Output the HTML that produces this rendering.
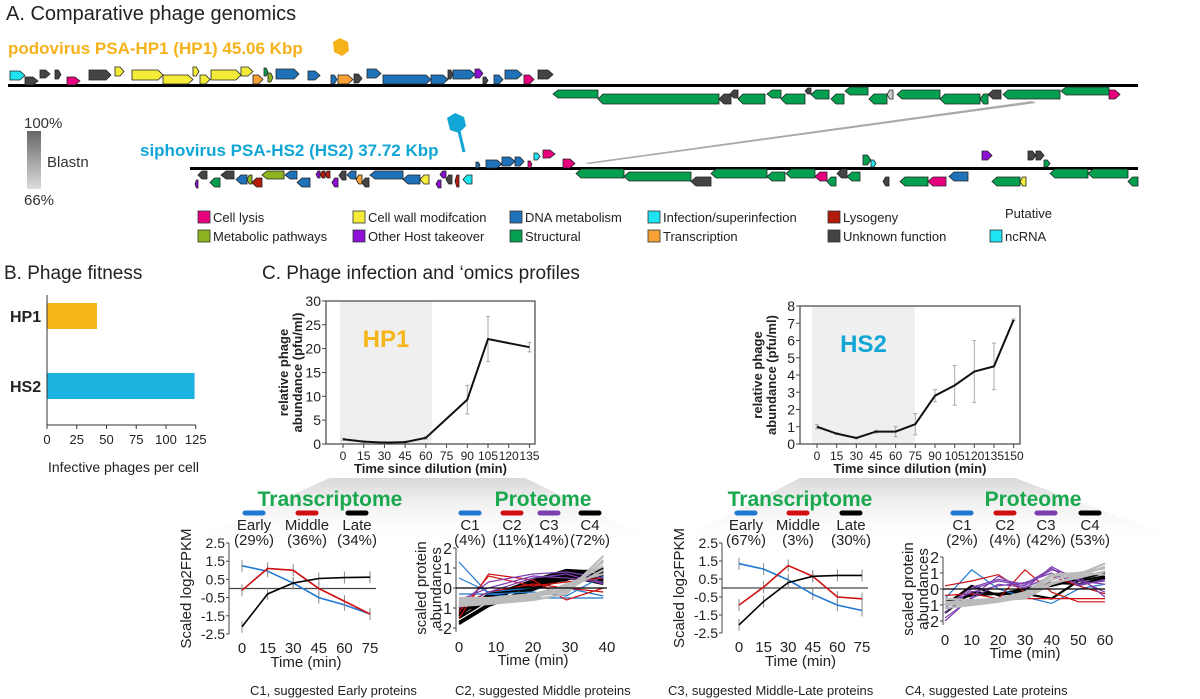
<!DOCTYPE html>
<html><head><meta charset="utf-8"><style>
body{margin:0;background:#fff;}
svg{display:block;font-family:"Liberation Sans",Arial,sans-serif;}
</style></head><body>
<svg id="fig" width="1200" height="699" viewBox="0 0 1200 699" xmlns="http://www.w3.org/2000/svg">
<defs>
<linearGradient id="blastGrad" x1="0" y1="0" x2="0" y2="1"><stop offset="0" stop-color="#666"/><stop offset="1" stop-color="#ddd"/></linearGradient>
<linearGradient id="fanGrad" x1="0" y1="0" x2="0" y2="1"><stop offset="0" stop-color="#d8d8d8"/><stop offset="1" stop-color="#fff" stop-opacity="0"/></linearGradient>
</defs>
<text x="6" y="20" font-size="20" fill="#222">A. Comparative phage genomics</text>
<text x="8" y="54" font-size="17" font-weight="bold" fill="#f5b21a">podovirus PSA-HP1 (HP1) 45.06 Kbp</text>
<polygon points="333,42 340,38 348,42 349,51 342,56 334,52" fill="#f5b21a"/>
<g><polygon points="447,118 455,113 464,117 466,126 459,133 450,130" fill="#12a6d6"/><line x1="459" y1="131" x2="464" y2="152" stroke="#12a6d6" stroke-width="3"/></g>
<text x="140" y="156" font-size="17" font-weight="bold" fill="#12a6d6">siphovirus PSA-HS2 (HS2) 37.72 Kbp</text>
<text x="24" y="128" font-size="15" fill="#333">100%</text>
<rect x="27" y="131" width="14" height="58" fill="url(#blastGrad)"/>
<text x="47" y="167" font-size="15" fill="#333">Blastn</text>
<text x="24" y="205" font-size="15" fill="#333">66%</text>
<polygon points="1032,101 1036,103 589,164 585,163" fill="#aaa"/>
<line x1="8" y1="85.5" x2="1138" y2="85.5" stroke="#000" stroke-width="3"/>
<line x1="190" y1="168.5" x2="1138" y2="168.5" stroke="#000" stroke-width="3"/>
<g id="genes"></g>
<g id="legend"></g>
<text x="4" y="279" font-size="19" fill="#222">B.   Phage fitness</text>
<g id="fitness"></g>
<text x="262" y="279" font-size="19" fill="#222">C. Phage infection and ‘omics profiles</text>
<polygon points="330,478 525,478 665,545 180,545" fill="url(#fanGrad)"/>
<polygon points="800,478 1015,478 1195,545 670,545" fill="url(#fanGrad)"/>
<g id="charts"></g>
<text x="250" y="695" font-size="13" fill="#222">C1, suggested Early proteins</text>
<text x="455" y="695" font-size="13" fill="#222">C2, suggested Middle proteins</text>
<text x="668" y="695" font-size="13" fill="#222">C3, suggested Middle-Late proteins</text>
<text x="905" y="695" font-size="13" fill="#222">C4, suggested Late proteins</text>
</svg>
<script>
const NS='http://www.w3.org/2000/svg';
const COL={pk:'#e6007e',ye:'#f5ec3a',bl:'#1f72b8',cy:'#1ee3f0',rd:'#b31b0b',dk:'#444',ol:'#8db31e',pu:'#8e0fd6',gr:'#04a050',or:'#f7a035',lg:'#ccc'};
// genes: [x1,x2,y1,y2,color,dir]
const hp1Genes=[[10,25,71,80,'cy',1],[25,38,77,85,'dk',1],[40,50,70,78,'dk',1],[55,61,70,79,'dk',1],[67,80,77,85,'pk',1],[89,111,70,80,'dk',1],[115,124,67,76,'ye',1],[132,163,70,80,'ye',1],[163,193,75,84,'ye',1],[193,199,67,76,'ye',1],[200,210,75,84,'ye',1],[211,241,70,80,'ye',1],[241,253,67,76,'ye',1],[253,263,75,84,'or',1],[264,268,68,76,'gr',1],[268,273,73,82,'ol',1],[276,299,69,79,'bl',1],[308,320,71,80,'bl',1],[331,337,75,84,'bl',1],[338,353,75,84,'or',1],[354,362,74,83,'dk',1],[367,381,69,78,'bl',1],[383,431,75,84,'bl',1],[431,448,75,84,'bl',1],[448,453,70,79,'dk',1],[453,475,70,79,'bl',1],[475,483,69,78,'pu',1],[483,488,77,84,'dk',1],[494,503,75,84,'bl',1],[505,522,70,79,'bl',1],[524,534,75,84,'pk',1],[538,553,70,79,'dk',1],
[553,598,90,98,'gr',-1],[598,719,94,104,'gr',-1],[719,731,94,104,'dk',-1],[730,738,90,98,'dk',-1],[738,765,94,104,'gr',-1],[767,781,90,98,'gr',-1],[781,805,94,104,'gr',-1],[805,811,88,94,'dk',-1],[811,829,90,99,'gr',-1],[831,844,94,104,'gr',-1],[845,868,87,95,'gr',-1],[869,887,94,104,'gr',-1],[887,893,90,99,'lg',-1],[897,940,90,99,'gr',-1],[940,980,94,104,'gr',-1],[980,988,94,104,'gr',-1],[988,1001,90,99,'dk',-1],[1003,1060,90,99,'gr',-1],[1061,1109,87,95,'gr',-1],[1109,1120,90,99,'pk',1]];
const hs2Genes=[[476,480,162,168,'bl',1],[486,502,160,168,'bl',1],[502,515,157,166,'bl',1],[515,524,157,166,'bl',1],[528,532,161,168,'pk',1],[534,540,153,160,'cy',1],[543,555,150,158,'pk',1],[563,575,159,168,'pk',1],[863,871,155,165,'gr',1],[871,876,160,167,'cy',1],[982,992,151,160,'pu',1],[1028,1036,151,160,'dk',1],[1036,1044,151,160,'dk',1],[1044,1050,160,167,'gr',1],
[198,207,171,179,'dk',-1],[195,198,180,188,'pu',-1],[210,220,178,187,'gr',-1],[221,234,171,179,'dk',-1],[236,247,175,184,'bl',-1],[247,252,175,184,'ol',-1],[252,262,178,187,'rd',-1],[262,284,171,179,'ol',-1],[285,297,171,179,'bl',-1],[297,310,178,187,'bl',-1],[316,320,171,178,'pu',-1],[320,325,171,178,'rd',-1],[325,330,171,178,'rd',-1],[332,338,178,187,'pu',-1],[339,346,171,180,'dk',-1],[347,356,171,179,'bl',-1],[356,362,175,184,'or',-1],[362,369,178,187,'dk',-1],[370,403,171,179,'bl',-1],[403,420,175,184,'bl',-1],[420,429,175,184,'ye',-1],[436,441,180,188,'pu',-1],[440,446,171,178,'pu',-1],[446,452,175,184,'dk',-1],[455,459,175,187,'rd',-1],[463,472,175,184,'cy',-1],
[576,624,169,178,'gr',-1],[624,691,172,181,'gr',-1],[691,711,177,186,'dk',-1],[711,767,169,178,'gr',-1],[767,785,172,181,'gr',-1],[786,815,169,178,'gr',-1],[815,827,172,181,'pk',-1],[827,836,177,186,'gr',-1],[837,847,169,178,'dk',-1],[847,860,172,181,'gr',-1],[883,889,177,186,'dk',-1],[900,928,177,186,'gr',-1],[928,946,177,186,'pk',-1],[949,968,172,181,'bl',-1],[992,1020,177,186,'gr',-1],[1020,1026,177,186,'ye',-1],[1050,1088,169,178,'gr',-1],[1088,1128,169,178,'gr',-1],[1128,1138,177,186,'gr',-1]];
function el(tag,attrs,parent,text){const e=document.createElementNS(NS,tag);for(const k in attrs)e.setAttribute(k,attrs[k]);if(text!==undefined)e.textContent=text;parent.appendChild(e);return e;}
const gG=document.getElementById('genes');
function drawGene(g,nm){const [x1,x2,y1,y2,c,d]=g;const h=Math.min(5,(x2-x1)*0.45);const ym=(y1+y2)/2;let pts;
 if(d>0)pts=`${x1},${y1} ${x2-h},${y1} ${x2},${ym} ${x2-h},${y2} ${x1},${y2}`;else pts=`${x2},${y1} ${x1+h},${y1} ${x1},${ym} ${x1+h},${y2} ${x2},${y2}`;
 const p=el('polygon',{points:pts,fill:COL[c],stroke:'#222','stroke-width':0.8},gG);
 
 }
hp1Genes.forEach(g=>drawGene(g,'hp1-gene'));
hs2Genes.forEach(g=>drawGene(g,'hs2-gene'));
const legItems=[[198,212,'pk','Cell lysis'],[198,231,'ol','Metabolic pathways'],[353,212,'ye','Cell wall modifcation'],[353,231,'pu','Other Host takeover'],[510,212,'bl','DNA metabolism'],[510,231,'gr','Structural'],[648,212,'cy','Infection/superinfection'],[648,231,'or','Transcription'],[828,212,'rd','Lysogeny'],[828,231,'dk','Unknown function'],[990,231,'cy','ncRNA']];
const gL=document.getElementById('legend');
legItems.forEach(it=>{const r=el('rect',{x:it[0],y:it[1]-1,width:12,height:12,fill:COL[it[2]],stroke:'#333','stroke-width':0.8},gL);
 
 
 const t=el('text',{x:it[0]+15,y:it[1]+10,'font-size':13,fill:'#222'},gL,it[3]);
 
 });
const pt=el('text',{x:1005,y:218,'font-size':13,fill:'#222'},gL,'Putative');


// fitness
const fitCats=['HP1','HS2'];
const fitVals=[42,124];
const fitTicks=[0,25,50,75,100,125];
const gF=document.getElementById('fitness');
const fx=v=>47+v*1.19;
const fitY=[303,373],fitC=['#f7b51a','#1cb2e0'];
fitCats.forEach((c,i)=>{const r=el('rect',{x:fx(0),y:fitY[i],width:fx(fitVals[i])-fx(0),height:26,fill:fitC[i]},gF);
 
 
 const t=el('text',{x:10,y:fitY[i]+19,'font-size':16,'font-weight':'bold',fill:'#222'},gF,c);
 
 });
el('line',{x1:fx(0),y1:425,x2:fx(125),y2:425,stroke:'#333','stroke-width':1},gF);
el('line',{x1:fx(0),y1:295,x2:fx(0),y2:425,stroke:'#333','stroke-width':1},gF);
fitTicks.forEach(v=>{el('line',{x1:fx(v),y1:425,x2:fx(v),y2:429,stroke:'#333'},gF);
 const t=el('text',{x:fx(v),y:444,'font-size':13,'text-anchor':'middle',fill:'#222'},gF,v);
 
 });
const fxt=el('text',{x:48,y:472,'font-size':14,fill:'#222'},gF,'Infective phages per cell');



// top infection curves
const hp1Times=[0,15,30,45,60,90,105,135];
const hp1Abund=[1,0.5,0.3,0.4,1.3,9.3,22,20.3];
const hp1Err=[0.2,0.2,0.2,0.2,0.3,3,4.7,1];
const hp1Ticks=[0,15,30,45,60,75,90,105,120,135];
const hp1YTicks=[0,5,10,15,20,25,30];
const hs2Times=[0,15,30,45,60,75,90,105,120,135,150];
const hs2Abund=[1,0.6,0.35,0.72,0.72,1.15,2.8,3.4,4.2,4.5,7.2];
const hs2Err=[0.12,0.05,0.05,0.08,0.3,0.62,0.35,1.15,1.8,1.35,0.05];
const hs2Ticks=[0,15,30,45,60,75,90,105,120,135,150];
const hs2YTicks=[0,1,2,3,4,5,6,7,8];
const gC=document.getElementById('charts');
function txt(x,y,s,size,attrs,name){const t=el('text',Object.assign({x:x,y:y,'font-size':size,fill:'#222'},attrs||{}),gC,s);
 
 return t;}
function topChart(o){const X=t=>o.x0+t*o.sx,Y=v=>o.y0-v*o.sy;
 el('rect',{x:o.sh0,y:o.top,width:o.sh1-o.sh0,height:o.y0-o.top,fill:'#efefef'},gC);
 el('rect',{x:o.ax,y:o.top,width:o.right-o.ax,height:o.y0-o.top,fill:'none',stroke:'#444','stroke-width':1.2},gC);
 o.yt.forEach(v=>{el('line',{x1:o.ax-4,y1:Y(v),x2:o.ax,y2:Y(v),stroke:'#444'},gC);txt(o.ax-5,Y(v)+5,v,14,{'text-anchor':'end'},'y-tick-label');});
 o.xt.forEach(v=>{el('line',{x1:X(v),y1:o.y0,x2:X(v),y2:o.y0+4,stroke:'#444'},gC);txt(X(v),o.y0+16,v,12,{'text-anchor':'middle'},'x-tick-label');});
 o.t.forEach((t,i)=>{const e=o.e[i];el('line',{x1:X(t),y1:Y(o.v[i]-e),x2:X(t),y2:Y(o.v[i]+e),stroke:'#aaa'},gC);
  el('line',{x1:X(t)-2,y1:Y(o.v[i]-e),x2:X(t)+2,y2:Y(o.v[i]-e),stroke:'#aaa'},gC);el('line',{x1:X(t)-2,y1:Y(o.v[i]+e),x2:X(t)+2,y2:Y(o.v[i]+e),stroke:'#aaa'},gC);});
 const pl=el('polyline',{points:o.t.map((t,i)=>X(t)+','+Y(o.v[i])).join(' '),fill:'none',stroke:'#111','stroke-width':2},gC);
 
 
 txt((o.sh0+o.sh1)/2,o.top+46,o.label,24,{'text-anchor':'middle','font-weight':'bold',fill:o.col},o.name+'-chart-label');
 const yc=(o.top+o.y0)/2;
 txt(o.ax-38,yc,'relative phage',13,{'text-anchor':'middle','font-weight':'bold',transform:`rotate(-90 ${o.ax-38} ${yc})`},'y-axis-title');
 txt(o.ax-24,yc,'abundance (pfu/ml)',13,{'text-anchor':'middle','font-weight':'bold',transform:`rotate(-90 ${o.ax-24} ${yc})`},'y-axis-title');
 txt((o.ax+o.right)/2,473,'Time since dilution (min)',13,{'text-anchor':'middle','font-weight':'bold'},'x-axis-title');}
topChart({name:'hp1',x0:343,sx:1.381,y0:444,sy:4.77,top:301,ax:326,right:535,sh0:340,sh1:432,t:hp1Times,v:hp1Abund,e:hp1Err,xt:hp1Ticks,yt:hp1YTicks,label:'HP1',col:'#f7b51a'});
topChart({name:'hs2',x0:817,sx:1.311,y0:444,sy:17.25,top:306,ax:800,right:1020,sh0:812,sh1:915,t:hs2Times,v:hs2Abund,e:hs2Err,xt:hs2Ticks,yt:hs2YTicks,label:'HS2',col:'#12a6d6'});

// transcriptome
const trTimes=[0,15,30,45,60,75];
const trYTicks=[2.5,1.5,0.5,-0.5,-1.5,-2.5];
const hp1Early=[1.25,0.95,0.3,-0.5,-0.9,-1.4];
const hp1Middle=[-0.1,1.1,1.0,0.0,-0.7,-1.4];
const hp1Late=[-2.1,-0.3,0.3,0.55,0.6,0.62];
const hs2Early=[1.35,1.05,0.45,-0.35,-0.95,-1.25];
const hs2Middle=[-0.95,0.05,1.25,0.65,-0.5,-0.6];
const hs2Late=[-2.05,-0.75,0.3,0.65,0.7,0.7];
const hp1Pct=['(29%)','(36%)','(34%)'];
const hs2Pct=['(67%)','(3%)','(30%)'];
const TRC=['#1f78d1','#d01010','#000'];
function legendRow(cx,names,pcts,cols){names.forEach((n,i)=>{const s=el('line',{x1:cx[i]-9,y1:513,x2:cx[i]+9,y2:513,stroke:cols[i],'stroke-width':5,'stroke-linecap':'round'},gC);
 
 
 txt(cx[i],530,n,15,{'text-anchor':'middle'},'legend-entry');txt(cx[i],545,pcts[i],15,{'text-anchor':'middle'},'legend-entry');});}
function trChart(o){const X=t=>o.x0+t*o.sx,Y=v=>o.y0-v*o.sy;
 txt(o.hc,506,'Transcriptome',21,{'text-anchor':'middle','font-weight':'bold',fill:'#1aa84f'},'transcriptome-title');
 legendRow(o.lc,['Early','Middle','Late'],o.pct,TRC);
 el('line',{x1:o.ax,y1:Y(2.5),x2:o.ax,y2:Y(-2.5),stroke:'#444'},gC);
 el('line',{x1:o.ax,y1:Y(0),x2:X(75)+6,y2:Y(0),stroke:'#444','stroke-width':1.2},gC);
 trYTicks.forEach(v=>{el('line',{x1:o.ax-3,y1:Y(v),x2:o.ax,y2:Y(v),stroke:'#444'},gC);txt(o.ax-4,Y(v)+5,v,14,{'text-anchor':'end'},'y-tick-label');});
 trTimes.forEach(v=>txt(X(v),Y(-2.5)+19,v,15,{'text-anchor':'middle'},'x-tick-label'));
 txt((X(0)+X(75))/2,Y(-2.5)+33,'Time (min)',15,{'text-anchor':'middle'},'x-axis-title');
 txt(o.ax-38,o.y0,'Scaled log2FPKM',15,{'text-anchor':'middle',transform:`rotate(-90 ${o.ax-38} ${o.y0})`},'y-axis-title');
 o.series.forEach((s,k)=>{s.forEach((v,i)=>{el('line',{x1:X(trTimes[i]),y1:Y(v)-6,x2:X(trTimes[i]),y2:Y(v)+6,stroke:'#888'},gC);});
  const pl=el('polyline',{points:s.map((v,i)=>X(trTimes[i])+','+Y(v)).join(' '),fill:'none',stroke:TRC[k],'stroke-width':1.6},gC);
  
  });}
trChart({x0:242,sx:1.707,y0:588.5,sy:18.2,ax:229,hc:330,lc:[254,307,357],pct:hp1Pct,series:[hp1Early,hp1Middle,hp1Late]});
trChart({x0:739,sx:1.64,y0:588,sy:18,ax:722,hc:800,lc:[746,798,851],pct:hs2Pct,series:[hs2Early,hs2Middle,hs2Late]});

// proteome
const hp1PTimes=[0,8,20,29,39];
const hp1C1=[[1.3,-0.3,-0.5,-0.5,-0.5],[0.5,-0.2,0,0,-0.4],[-0.3,-0.3,-0.2,-0.4,0.6]];
const hp1C2=[[-1.5,0.7,0.4,-0.6,0],[-1.2,0.6,0.1,0.3,0.5],[-0.9,-0.2,0.2,0.0,-0.2]];
const hp1C3=[[-0.8,0.3,0.7,0.8,0.5],[-1,-0.2,0.5,0.7,0.2],[-0.6,0,0.6,0.5,0.3]];
const hp1C4=[[-1.7,-0.8,0,0.9,0.6],[-1.5,-0.6,0.2,0.8,0.9],[-1.3,-0.5,0.1,0.7,0.4],[-1.1,-0.6,0.3,0.9,0.8],[-0.9,-0.4,0,0.6,0.7],[-1.8,-0.9,-0.1,0.5,0.3],[-0.7,-0.5,0.2,0.4,1.0],[-1.2,-0.7,0.3,0.8,0.5],[-1.4,-0.3,0.1,0.6,0.2],[-1.0,-0.4,0.4,0.9,0.6]];
const hp1Gray=[[-0.6,-0.6,-0.4,-0.2,1.6],[-0.8,-0.7,-0.5,0,1.3],[-0.5,-0.5,-0.3,0.1,1.1],[-0.7,-0.6,-0.4,-0.1,0.9],[-0.9,-0.8,-0.6,-0.3,1.4],[-0.6,-0.7,-0.5,0.2,0.7]];
const hs2PTimes=[0,10,20,30,40,50,60];
const hs2C1=[[-0.6,1.2,0,-0.5,-0.9,0,0.3]];
const hs2C2=[[0.2,0.5,0.9,-0.2,0.8,0.2,-0.3],[-0.4,-0.3,-0.6,1.2,-0.2,-0.8,-0.8],[-1.2,-1,-0.6,-0.6,-0.6,-0.6,-0.6]];
const hs2C3=[[-2,-0.5,0.8,0,1.4,0.5,0.3],[-1.5,0,0.5,0.2,1.2,0.8,-0.5],[-1,-0.2,0.2,0.4,1,0.3,0.5],[-1.8,-0.6,0.3,0.1,0.8,0.6,-0.2],[-1.2,0.1,0.6,0.3,1.3,0.2,0.6]];
const hs2C4=[[-1.5,-0.2,-0.3,-0.3,-0.6,0.5,0.8],[-1.0,0.2,-0.4,-0.1,0.2,0.6,1.0],[-0.8,-0.4,-0.3,0,0.4,0.3,0.7]];
const hs2Gray=[[-1,-0.9,-0.7,-0.4,0.6,0.9,1.6],[-0.8,-0.8,-0.6,-0.3,0.8,1.0,1.3],[-1.2,-1,-0.8,-0.5,0.4,0.7,1.1],[-0.6,-0.7,-0.6,-0.2,0.9,1.0,0.9],[-0.9,-0.8,-0.7,-0.6,0.3,0.8,1.4]];
const hp1PPct=['(4%)','(11%)','(14%)','(72%)'];
const hs2PPct=['(2%)','(4%)','(42%)','(53%)'];
const PC=['#1f78d1','#d01010','#7b3fb0','#000'];
function prChart(o){const X=t=>o.x0+t*o.sx,Y=v=>o.y0-v*o.sy;
 txt(o.hc,506,'Proteome',21,{'text-anchor':'middle','font-weight':'bold',fill:'#1aa84f'},'proteome-title');
 legendRow(o.lc,['C1','C2','C3','C4'],o.pct,PC);
 el('line',{x1:o.ax,y1:Y(2),x2:o.ax,y2:Y(-2)+4,stroke:'#444'},gC);
 [2,1,0,-1,-2].forEach(v=>{el('line',{x1:o.ax-3,y1:Y(v),x2:o.ax,y2:Y(v),stroke:'#444'},gC);txt(o.ax-4,Y(v)+6,v,16,{'text-anchor':'end'},'y-tick-label');});
 o.xt.forEach(v=>txt(X(v),Y(-2)+24,v,15,{'text-anchor':'middle'},'x-tick-label'));
 txt((X(o.xt[0])+X(o.xt[o.xt.length-1]))/2,Y(-2)+37,'Time (min)',15,{'text-anchor':'middle'},'x-axis-title');
 txt(o.ax-30,o.y0,'scaled protein',15,{'text-anchor':'middle',transform:`rotate(-90 ${o.ax-30} ${o.y0})`},'y-axis-title');
 txt(o.ax-15,o.y0,'abundances',15,{'text-anchor':'middle',transform:`rotate(-90 ${o.ax-15} ${o.y0})`},'y-axis-title');
 const groups=[[o.c4,'#000'],[o.c1,PC[0]],[o.c2,PC[1]],[o.c3,PC[2]],[o.gray,'#bbb']];
 groups.forEach(([set,c])=>set.forEach(s=>{const pl=el('polyline',{points:s.map((v,i)=>X(o.t[i])+','+Y(v)).join(' '),fill:'none',stroke:c,'stroke-width':c=='#bbb'||c=='#000'?2.2:1.2},gC);
  
  }));
 el('line',{x1:o.ax,y1:Y(0),x2:X(o.xt[o.xt.length-1]),y2:Y(0),stroke:'#000','stroke-width':1.2},gC);}
prChart({x0:459,sx:3.7,y0:588,sy:20,ax:456,hc:543,lc:[470,512,549,590],pct:hp1PPct,t:hp1PTimes,xt:[0,10,20,30,40],c1:hp1C1,c2:hp1C2,c3:hp1C3,c4:hp1C4,gray:hp1Gray});
prChart({x0:945,sx:2.667,y0:589,sy:16,ax:943,hc:1033,lc:[962,1005,1046,1090],pct:hs2PPct,t:hs2PTimes,xt:[0,10,20,30,40,50,60],c1:hs2C1,c2:hs2C2,c3:hs2C3,c4:hs2C4,gray:hs2Gray});
</script>
</body></html>
